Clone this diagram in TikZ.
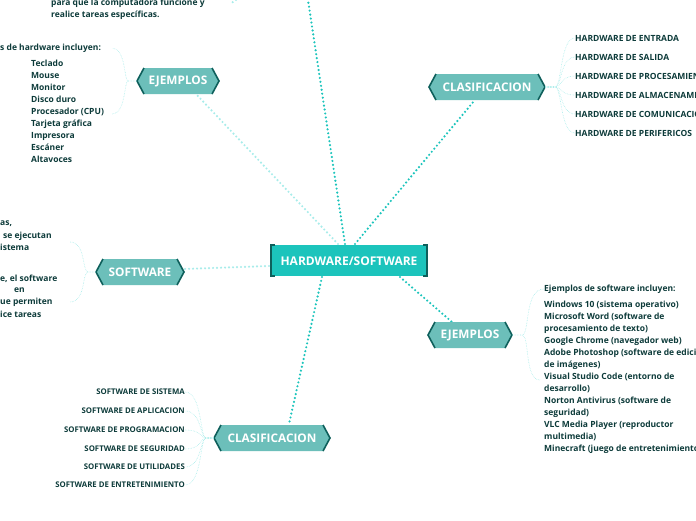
\documentclass[tikz,border=0pt]{standalone}
\usepackage{fontspec}
\setmainfont{Open Sans}
\begin{document}
\begin{tikzpicture}[x=1pt,y=-1pt,
  hexfill/.style={fill=hexc},
  chev/.style={draw=darkc,line width=1.6pt},
  htext/.style={font=\bfseries\fontsize{11.8}{13}\selectfont,text=white,inner sep=0pt},
  leaf/.style={font=\bfseries\fontsize{8.5}{12}\selectfont,text=txtc,inner sep=0pt},
  mainline/.style={draw=mainc,line width=2.4pt,line cap=round,dash pattern=on 0pt off 4pt},
  lightline/.style={draw=lightc,line width=2.4pt,line cap=round,dash pattern=on 0pt off 4pt},
  brace/.style={draw=lightc,line width=0.6pt,densely dotted},
]
\definecolor{hexc}{HTML}{6CBFBA}
\definecolor{darkc}{HTML}{0E5F5B}
\definecolor{mainc}{HTML}{1CC4BC}
\definecolor{centerc}{HTML}{1CC4BC}
\definecolor{lightc}{HTML}{A8ECEA}
\definecolor{txtc}{HTML}{0D3B3A}
\useasboundingbox (0,0) rectangle (696,520);
\newcommand\hexbox[5]{%
  \fill[hexfill] (#2-#4,#3) -- (#2-#4+7,#3-13) -- (#2+#4-7,#3-13) -- (#2+#4,#3) -- (#2+#4-7,#3+13) -- (#2-#4+7,#3+13) -- cycle;
  \draw[chev] (#2-#4+7,#3-13) -- (#2-#4,#3) -- (#2-#4+7,#3+13);
  \draw[chev] (#2+#4-7,#3-13) -- (#2+#4,#3) -- (#2+#4-7,#3+13);
  \node[htext,minimum width=2*#4,minimum height=26] (#1) at (#2,#3) {#5};}
% center
\fill[centerc] (270,245) rectangle (428,276);
\draw[darkc,line width=2pt] (275,245)--(271,245)--(271,276)--(275,276);
\draw[darkc,line width=2pt] (423,245)--(427,245)--(427,276)--(423,276);
\node[htext,font=\bfseries\fontsize{12}{13}\selectfont] (c) at (349,261) {HARDWARE/SOFTWARE};
\coordinate (top) at (308,0);
% main connectors
\draw[mainline] (345,244) -- (top);
\draw[lightline] (338,244) -- (196,94);
\draw[mainline] (355,244) -- (474,101);
\draw[lightline] (269,266) -- (184,269);
\draw[mainline] (400,277) -- (452,322);
\draw[mainline] (322,277) -- (289,424);
\draw[lightline] (236,0) -- (230,4);
\hexbox{ej1}{178}{81}{41}{EJEMPLOS}
\hexbox{cl1}{487}{87}{58}{CLASIFICACION}
\hexbox{sw}{140}{272}{44}{SOFTWARE}
\hexbox{ej2}{470}{335}{42}{EJEMPLOS}
\hexbox{cl2}{272}{438}{58}{CLASIFICACION}
% top text
\node[leaf,anchor=west] (t1) at (51,3) {para que la computadora funcione y};
\node[leaf,anchor=west] (t2) at (51,15) {realice tareas específicas.};
% ejemplos hardware
\node[leaf,anchor=west] (h0) at (0,48) {s de hardware incluyen:};
\node[leaf,anchor=north west,align=left] (hl) at (31,60) {Teclado\\Mouse\\Monitor\\Disco duro\\Procesador (CPU)\\Tarjeta gráfica\\Impresora\\Escáner\\Altavoces};
\draw[brace] (ej1.west) -- (128,81) .. controls (124,81) and (126,48) .. (112,48);
\draw[brace] (128,81) .. controls (124,81) and (126,114) .. (112,114);
% software text
\node[leaf,anchor=west] at (0,224) {as,};
\node[leaf,anchor=west] at (3,236) {se ejecutan};
\node[leaf,anchor=west] at (0,247) {istema};
\node[leaf,anchor=west] at (0,279) {e, el software};
\node[leaf,anchor=west] at (14,290) {en};
\node[leaf,anchor=west] at (0,302) {ue permiten};
\node[leaf,anchor=west] at (0,314) {ice tareas};
\draw[brace] (sw.west) -- (88,272) .. controls (82,272) and (86,242) .. (70,242);
\draw[brace] (88,272) .. controls (82,272) and (86,302) .. (70,302);
% clasificacion hardware
\foreach \t [count=\i] in {HARDWARE DE ENTRADA,HARDWARE DE SALIDA,HARDWARE DE PROCESAMIENTO,HARDWARE DE ALMACENAMIENTO,HARDWARE DE COMUNICACION,HARDWARE DE PERIFERICOS}{
  \node[leaf,anchor=west] (r\i) at (575,{19+19*\i}) {\t};
  \draw[brace] (cl1.east) -- (555,87) .. controls (562,87) and (560,{19+19*\i}) .. (r\i.west);
}
% ejemplos software
\node[leaf,anchor=west] (s0) at (544,289) {Ejemplos de software incluyen:};
\node[leaf,anchor=north west,align=left] (sl) at (544,301) {Windows 10 (sistema operativo)\\Microsoft Word (software de\\procesamiento de texto)\\Google Chrome (navegador web)\\Adobe Photoshop (software de edición\\de imágenes)\\Visual Studio Code (entorno de\\desarrollo)\\Norton Antivirus (software de\\seguridad)\\VLC Media Player (reproductor\\multimedia)\\Minecraft (juego de entretenimiento)};
\draw[brace] (ej2.east) -- (522,335) .. controls (530,335) and (524,289) .. (s0.west);
\draw[brace] (522,335) .. controls (530,335) and (524,380) .. (540,380);
% clasificacion software
\foreach \t/\yy [count=\i] in {SOFTWARE DE SISTEMA/392,SOFTWARE DE APLICACION/411,SOFTWARE DE PROGRAMACION/430,SOFTWARE DE SEGURIDAD/449,SOFTWARE DE UTILIDADES/467,SOFTWARE DE ENTRETENIMIENTO/485}{
  \node[leaf,font=\bfseries\fontsize{7.8}{10}\selectfont,anchor=east] (b\i) at (185,\yy) {\t};
  \draw[brace] (cl2.west) -- (206,438) .. controls (200,438) and (202,\yy) .. (b\i.east);
}
\end{tikzpicture}
\end{document}
